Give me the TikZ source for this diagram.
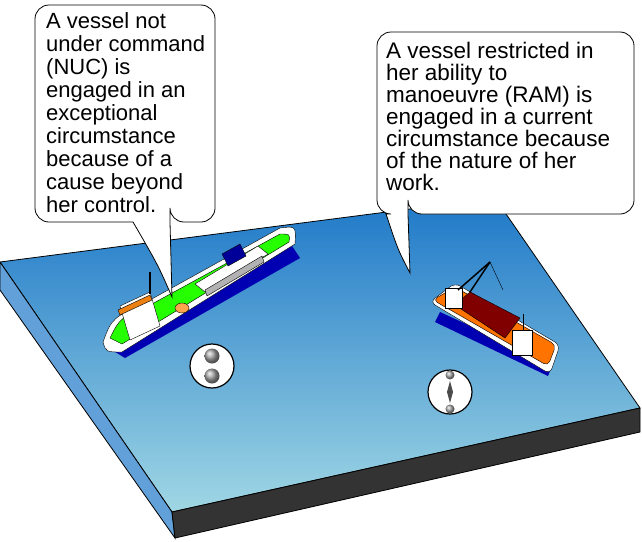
\documentclass[tikz,border=0pt]{standalone}
\usepackage{fontspec}
\setmainfont{Liberation Sans}
\begin{document}
\begin{tikzpicture}[x=1pt,y=-1pt,
  bubble/.style={fill=white,draw=black,line width=0.8pt,rounded corners=14pt},
  btext/.style={font=\fontsize{22}{23}\selectfont,align=left,anchor=north west,inner sep=0pt},
  sig/.style={circle,draw=black,line width=1.2pt,fill=white,minimum size=44pt,inner sep=0pt},
  ball/.style={circle,ball color=gray!70,minimum size=15pt,inner sep=0pt}]
\useasboundingbox (0,0) rectangle (642,541);
\definecolor{seatop}{RGB}{30,120,200}
\definecolor{seabot}{RGB}{160,215,228}
% sea top face
\shade[top color=seatop,bottom color=seabot,draw=black,line width=0.8pt]
  (0,262) -- (495,198) -- (640,408) -- (172,512) -- cycle;
% left face
\fill[seatop!70!white,draw=black,line width=0.8pt] (0,262) -- (172,512) -- (175,538) -- (0,290) -- cycle;
% front face
\fill[black!80,draw=black,line width=0.8pt] (172,512) -- (640,408) -- (640,432) -- (175,538) -- cycle;
% green ship
\fill[blue!70!black] (112,350) -- (292,246) -- (300,258) -- (125,358) -- cycle;
\fill[white,draw=black] (103,342) .. controls (112,318) .. (150,300) -- (280,228) .. controls (296,226) .. (295,244) -- (122,352) .. controls (106,352) .. (103,342) -- cycle;
\fill[green!80!lime,draw=black] (110,338) .. controls (120,318) .. (152,304) -- (280,234) .. controls (290,234) .. (289,242) -- (122,344) -- cycle;
\fill[white,draw=black] (195,284) -- (258,246) -- (268,254) -- (205,292) -- cycle;
\fill[gray!60,draw=black] (205,290) -- (262,256) -- (264,262) -- (207,296) -- cycle;
\fill[blue!60!black,draw=black] (222,254) -- (240,244) -- (246,256) -- (228,266) -- cycle;
\fill[white,draw=black] (120,306) -- (150,292) -- (160,326) -- (130,340) -- cycle;
\fill[orange!70!brown,draw=black] (118,310) -- (150,295) -- (152,300) -- (120,315) -- cycle;
\draw[line width=1.2pt] (150,294) -- (150,272);
\fill[orange!70,draw=black] (182,308) ellipse (7pt and 5pt);
% orange ship
\fill[blue!70!black] (435,322) -- (548,376) -- (553,364) -- (440,312) -- cycle;
\fill[white,draw=black,rounded corners=6pt] (430,302) -- (455,283) -- (560,345) -- (550,374) -- cycle;
\fill[orange!90!red,draw=black,rounded corners=5pt] (433,300) -- (455,287) -- (556,345) -- (548,366) -- cycle;
\fill[red!50!black,draw=black] (455,305) -- (470,292) -- (520,318) -- (505,338) -- cycle;
\fill[white,draw=black] (445,288) -- (462,288) -- (462,308) -- (445,308) -- cycle;
\fill[white,draw=black] (512,330) -- (532,330) -- (532,355) -- (512,355) -- cycle;
\draw[line width=1.5pt] (458,290) -- (490,262);
\draw[line width=1.5pt] (470,292) -- (490,262);
\draw (490,262) -- (503,290);
\draw[line width=1pt] (523,330) -- (523,314);
% signals
\node[sig] (s1) at (212,366) {};
\node[ball] (b1) at (212,356) {};
\node[ball] (b2) at (212,376) {};
\node[sig] (s2) at (450,392) {};
\node[ball,minimum size=9pt] (b3) at (450,375) {};
\node[ball,minimum size=9pt] (b4) at (450,409) {};
\fill[black!70] (450,381) -- (453,392) -- (450,403) -- (447,392) -- cycle;
% left bubble
\path[bubble] (35,5) -- (215,5) -- (215,222) -- (170,222) [sharp corners] -- (170,222) -- (172,297) .. controls (158,265) .. (133,222) [rounded corners=14pt] -- (35,222) -- cycle;
\node[btext] (t1) at (46,12) {A vessel not\\under command\\(NUC) is\\engaged in an\\exceptional\\circumstance\\because of a\\cause beyond\\her control.};
% right bubble
\path[bubble] (377,32) -- (634,32) -- (634,214) -- (408,214) [sharp corners] -- (408,214) -- (410,273) .. controls (398,250) .. (386,214) [rounded corners=14pt] -- (377,214) -- cycle;
\node[btext,font=\fontsize{22.5}{22}\selectfont] (t2) at (386,42) {A vessel restricted in\\her ability to\\manoeuvre (RAM) is\\engaged in a current\\circumstance because\\of the nature of her\\work.};
\end{tikzpicture}
\end{document}
